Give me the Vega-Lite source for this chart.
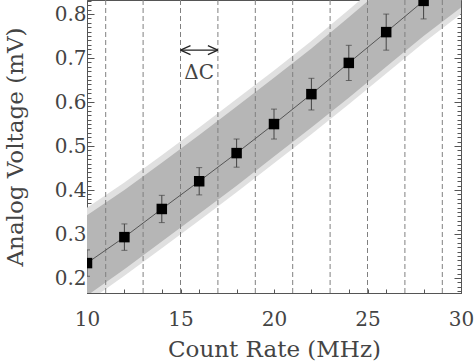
{
  "$schema": "https://vega.github.io/schema/vega-lite/v6.json",
  "width": 374,
  "height": 293,
  "autosize": "none",
  "padding": {"left": 87, "top": 0, "right": 13, "bottom": 69},
  "background": "white",
  "config": {
    "view": {"stroke": "#555", "strokeWidth": 1},
    "font": "DejaVu Serif",
    "axis": {
      "domainColor": "#555",
      "tickColor": "#555",
      "labelColor": "#444",
      "titleColor": "#444",
      "labelFont": "DejaVu Serif",
      "titleFont": "DejaVu Serif",
      "labelFontSize": 20,
      "titleFontSize": 23,
      "titleFontWeight": "normal",
      "grid": false,
      "labelFlush": false,
      "labelOverlap": false
    }
  },
  "datasets": {
    "band": [
      {"x": 10, "lo": 0.16, "hi": 0.343, "lo_out": 0.145, "hi_out": 0.36},
      {"x": 12, "lo": 0.22, "hi": 0.4, "lo_out": 0.205, "hi_out": 0.417},
      {"x": 14, "lo": 0.283, "hi": 0.462, "lo_out": 0.268, "hi_out": 0.479},
      {"x": 16, "lo": 0.346, "hi": 0.525, "lo_out": 0.331, "hi_out": 0.542},
      {"x": 18, "lo": 0.41, "hi": 0.59, "lo_out": 0.395, "hi_out": 0.607},
      {"x": 20, "lo": 0.476, "hi": 0.655, "lo_out": 0.461, "hi_out": 0.672},
      {"x": 22, "lo": 0.542, "hi": 0.722, "lo_out": 0.527, "hi_out": 0.739},
      {"x": 24, "lo": 0.61, "hi": 0.793, "lo_out": 0.595, "hi_out": 0.81},
      {"x": 26, "lo": 0.68, "hi": 0.865, "lo_out": 0.665, "hi_out": 0.882},
      {"x": 28, "lo": 0.75, "hi": 0.935, "lo_out": 0.735, "hi_out": 0.952},
      {"x": 30, "lo": 0.815, "hi": 1.0, "lo_out": 0.8, "hi_out": 1.017}
    ],
    "pts": [
      {"x": 10, "v": 0.234, "lo": 0.204, "hi": 0.264},
      {"x": 12, "v": 0.293, "lo": 0.263, "hi": 0.323},
      {"x": 14, "v": 0.357, "lo": 0.326, "hi": 0.388},
      {"x": 16, "v": 0.42, "lo": 0.389, "hi": 0.451},
      {"x": 18, "v": 0.484, "lo": 0.452, "hi": 0.516},
      {"x": 20, "v": 0.55, "lo": 0.516, "hi": 0.584},
      {"x": 22, "v": 0.618, "lo": 0.582, "hi": 0.654},
      {"x": 24, "v": 0.689, "lo": 0.649, "hi": 0.729},
      {"x": 26, "v": 0.759, "lo": 0.718, "hi": 0.8},
      {"x": 28, "v": 0.83, "lo": 0.789, "hi": 0.871}
    ],
    "grid": [
      {"x": 11}, {"x": 13}, {"x": 15}, {"x": 17}, {"x": 19},
      {"x": 21}, {"x": 23}, {"x": 25}, {"x": 27}, {"x": 29}
    ],
    "arrow": [{"x1": 15, "x2": 17, "y": 0.718}],
    "heads": [
      {"x": 15, "y": 0.718, "dir": "left"},
      {"x": 17, "y": 0.718, "dir": "right"}
    ],
    "label": [{"x": 16, "y": 0.666, "t": "ΔC"}]
  },
  "encoding": {
    "x": {
      "field": "x",
      "type": "quantitative",
      "scale": {"domain": [10, 30], "nice": false, "zero": false},
      "axis": {
        "title": "Count Rate (MHz)",
        "values": [10, 12, 14, 15, 16, 18, 20, 22, 24, 25, 26, 28, 30],
        "tickSize": -4,
        "labelPadding": 20,
        "titlePadding": 9,
        "labelExpr": "datum.value % 5 == 0 ? datum.label : ''"
      }
    }
  },
  "layer": [
    {
      "data": {"name": "band"},
      "mark": {"type": "area", "color": "#e0e0e0", "clip": true},
      "encoding": {
        "y": {
          "field": "lo_out",
          "type": "quantitative",
          "scale": {"domain": [0.166, 0.832], "nice": false, "zero": false},
          "axis": {
            "title": "Analog Voltage (mV)",
            "values": [0.17, 0.18, 0.19, 0.2, 0.21, 0.22, 0.23, 0.24, 0.25, 0.26, 0.27, 0.28, 0.29, 0.3, 0.31, 0.32, 0.33, 0.34, 0.35, 0.36, 0.37, 0.38, 0.39, 0.4, 0.41, 0.42, 0.43, 0.44, 0.45, 0.46, 0.47, 0.48, 0.49, 0.5, 0.51, 0.52, 0.53, 0.54, 0.55, 0.56, 0.57, 0.58, 0.59, 0.6, 0.61, 0.62, 0.63, 0.64, 0.65, 0.66, 0.67, 0.68, 0.69, 0.7, 0.71, 0.72, 0.73, 0.74, 0.75, 0.76, 0.77, 0.78, 0.79, 0.8, 0.81, 0.82, 0.83],
            "tickSize": {"condition": {"test": "abs(datum.value*10 - round(datum.value*10)) < 0.001", "value": -7}, "value": -4},
            "labelExpr": "abs(datum.value*10 - round(datum.value*10)) < 0.001 ? format(datum.value, '.1f') : ''",
            "labelPadding": 8,
            "titlePadding": 27
          }
        },
        "y2": {"field": "hi_out"}
      }
    },
    {
      "data": {"name": "band"},
      "mark": {"type": "area", "color": "#b6b6b6", "clip": true},
      "encoding": {
        "y": {"field": "lo", "type": "quantitative", "axis": null},
        "y2": {"field": "hi"}
      }
    },
    {
      "data": {"name": "grid"},
      "mark": {"type": "rule", "color": "#808080", "strokeDash": [5, 3], "strokeWidth": 1},
      "encoding": {}
    },
    {
      "data": {"name": "pts"},
      "mark": {"type": "line", "color": "#555", "strokeWidth": 1, "clip": true},
      "encoding": {
        "y": {
          "field": "v",
          "type": "quantitative",
          "axis": {
            "orient": "right",
            "title": null,
            "labels": false,
            "values": [0.17, 0.18, 0.19, 0.2, 0.21, 0.22, 0.23, 0.24, 0.25, 0.26, 0.27, 0.28, 0.29, 0.3, 0.31, 0.32, 0.33, 0.34, 0.35, 0.36, 0.37, 0.38, 0.39, 0.4, 0.41, 0.42, 0.43, 0.44, 0.45, 0.46, 0.47, 0.48, 0.49, 0.5, 0.51, 0.52, 0.53, 0.54, 0.55, 0.56, 0.57, 0.58, 0.59, 0.6, 0.61, 0.62, 0.63, 0.64, 0.65, 0.66, 0.67, 0.68, 0.69, 0.7, 0.71, 0.72, 0.73, 0.74, 0.75, 0.76, 0.77, 0.78, 0.79, 0.8, 0.81, 0.82, 0.83],
            "tickSize": {"condition": {"test": "abs(datum.value*10 - round(datum.value*10)) < 0.001", "value": -7}, "value": -4}
          }
        }
      }
    },
    {
      "data": {"name": "pts"},
      "mark": {"type": "rule", "color": "#444", "strokeWidth": 1, "clip": true},
      "encoding": {
        "y": {"field": "lo", "type": "quantitative", "axis": null},
        "y2": {"field": "hi"}
      }
    },
    {
      "data": {"name": "pts"},
      "mark": {"type": "tick", "color": "#444", "orient": "horizontal", "size": 6, "thickness": 1, "clip": true},
      "encoding": {
        "y": {"field": "lo", "type": "quantitative", "axis": null}
      }
    },
    {
      "data": {"name": "pts"},
      "mark": {"type": "tick", "color": "#444", "orient": "horizontal", "size": 6, "thickness": 1, "clip": true},
      "encoding": {
        "y": {"field": "hi", "type": "quantitative", "axis": null}
      }
    },
    {
      "data": {"name": "pts"},
      "mark": {"type": "point", "shape": "square", "filled": true, "color": "#000", "size": 110, "opacity": 1, "clip": true},
      "encoding": {
        "y": {"field": "v", "type": "quantitative", "axis": null}
      }
    },
    {
      "data": {"name": "arrow"},
      "mark": {"type": "rule", "color": "#222", "strokeWidth": 1.2},
      "encoding": {
        "x": {"field": "x1", "type": "quantitative"},
        "x2": {"field": "x2"},
        "y": {"field": "y", "type": "quantitative", "axis": null}
      }
    },
    {
      "data": {"name": "heads"},
      "mark": {"type": "point", "filled": false, "color": "#222", "strokeWidth": 1.2, "size": 100, "opacity": 1},
      "encoding": {
        "y": {"field": "y", "type": "quantitative", "axis": null},
        "shape": {
          "field": "dir",
          "type": "nominal",
          "scale": {"domain": ["left", "right"], "range": ["M0,0L2,-0.9M0,0L2,0.9", "M0,0L-2,-0.9M0,0L-2,0.9"]},
          "legend": null
        }
      }
    },
    {
      "data": {"name": "label"},
      "mark": {"type": "text", "font": "DejaVu Serif", "fontSize": 20, "color": "#444", "baseline": "middle", "align": "center"},
      "encoding": {
        "y": {"field": "y", "type": "quantitative", "axis": null},
        "text": {"field": "t"}
      }
    }
  ],
  "resolve": {"axis": {"y": "independent"}}
}
